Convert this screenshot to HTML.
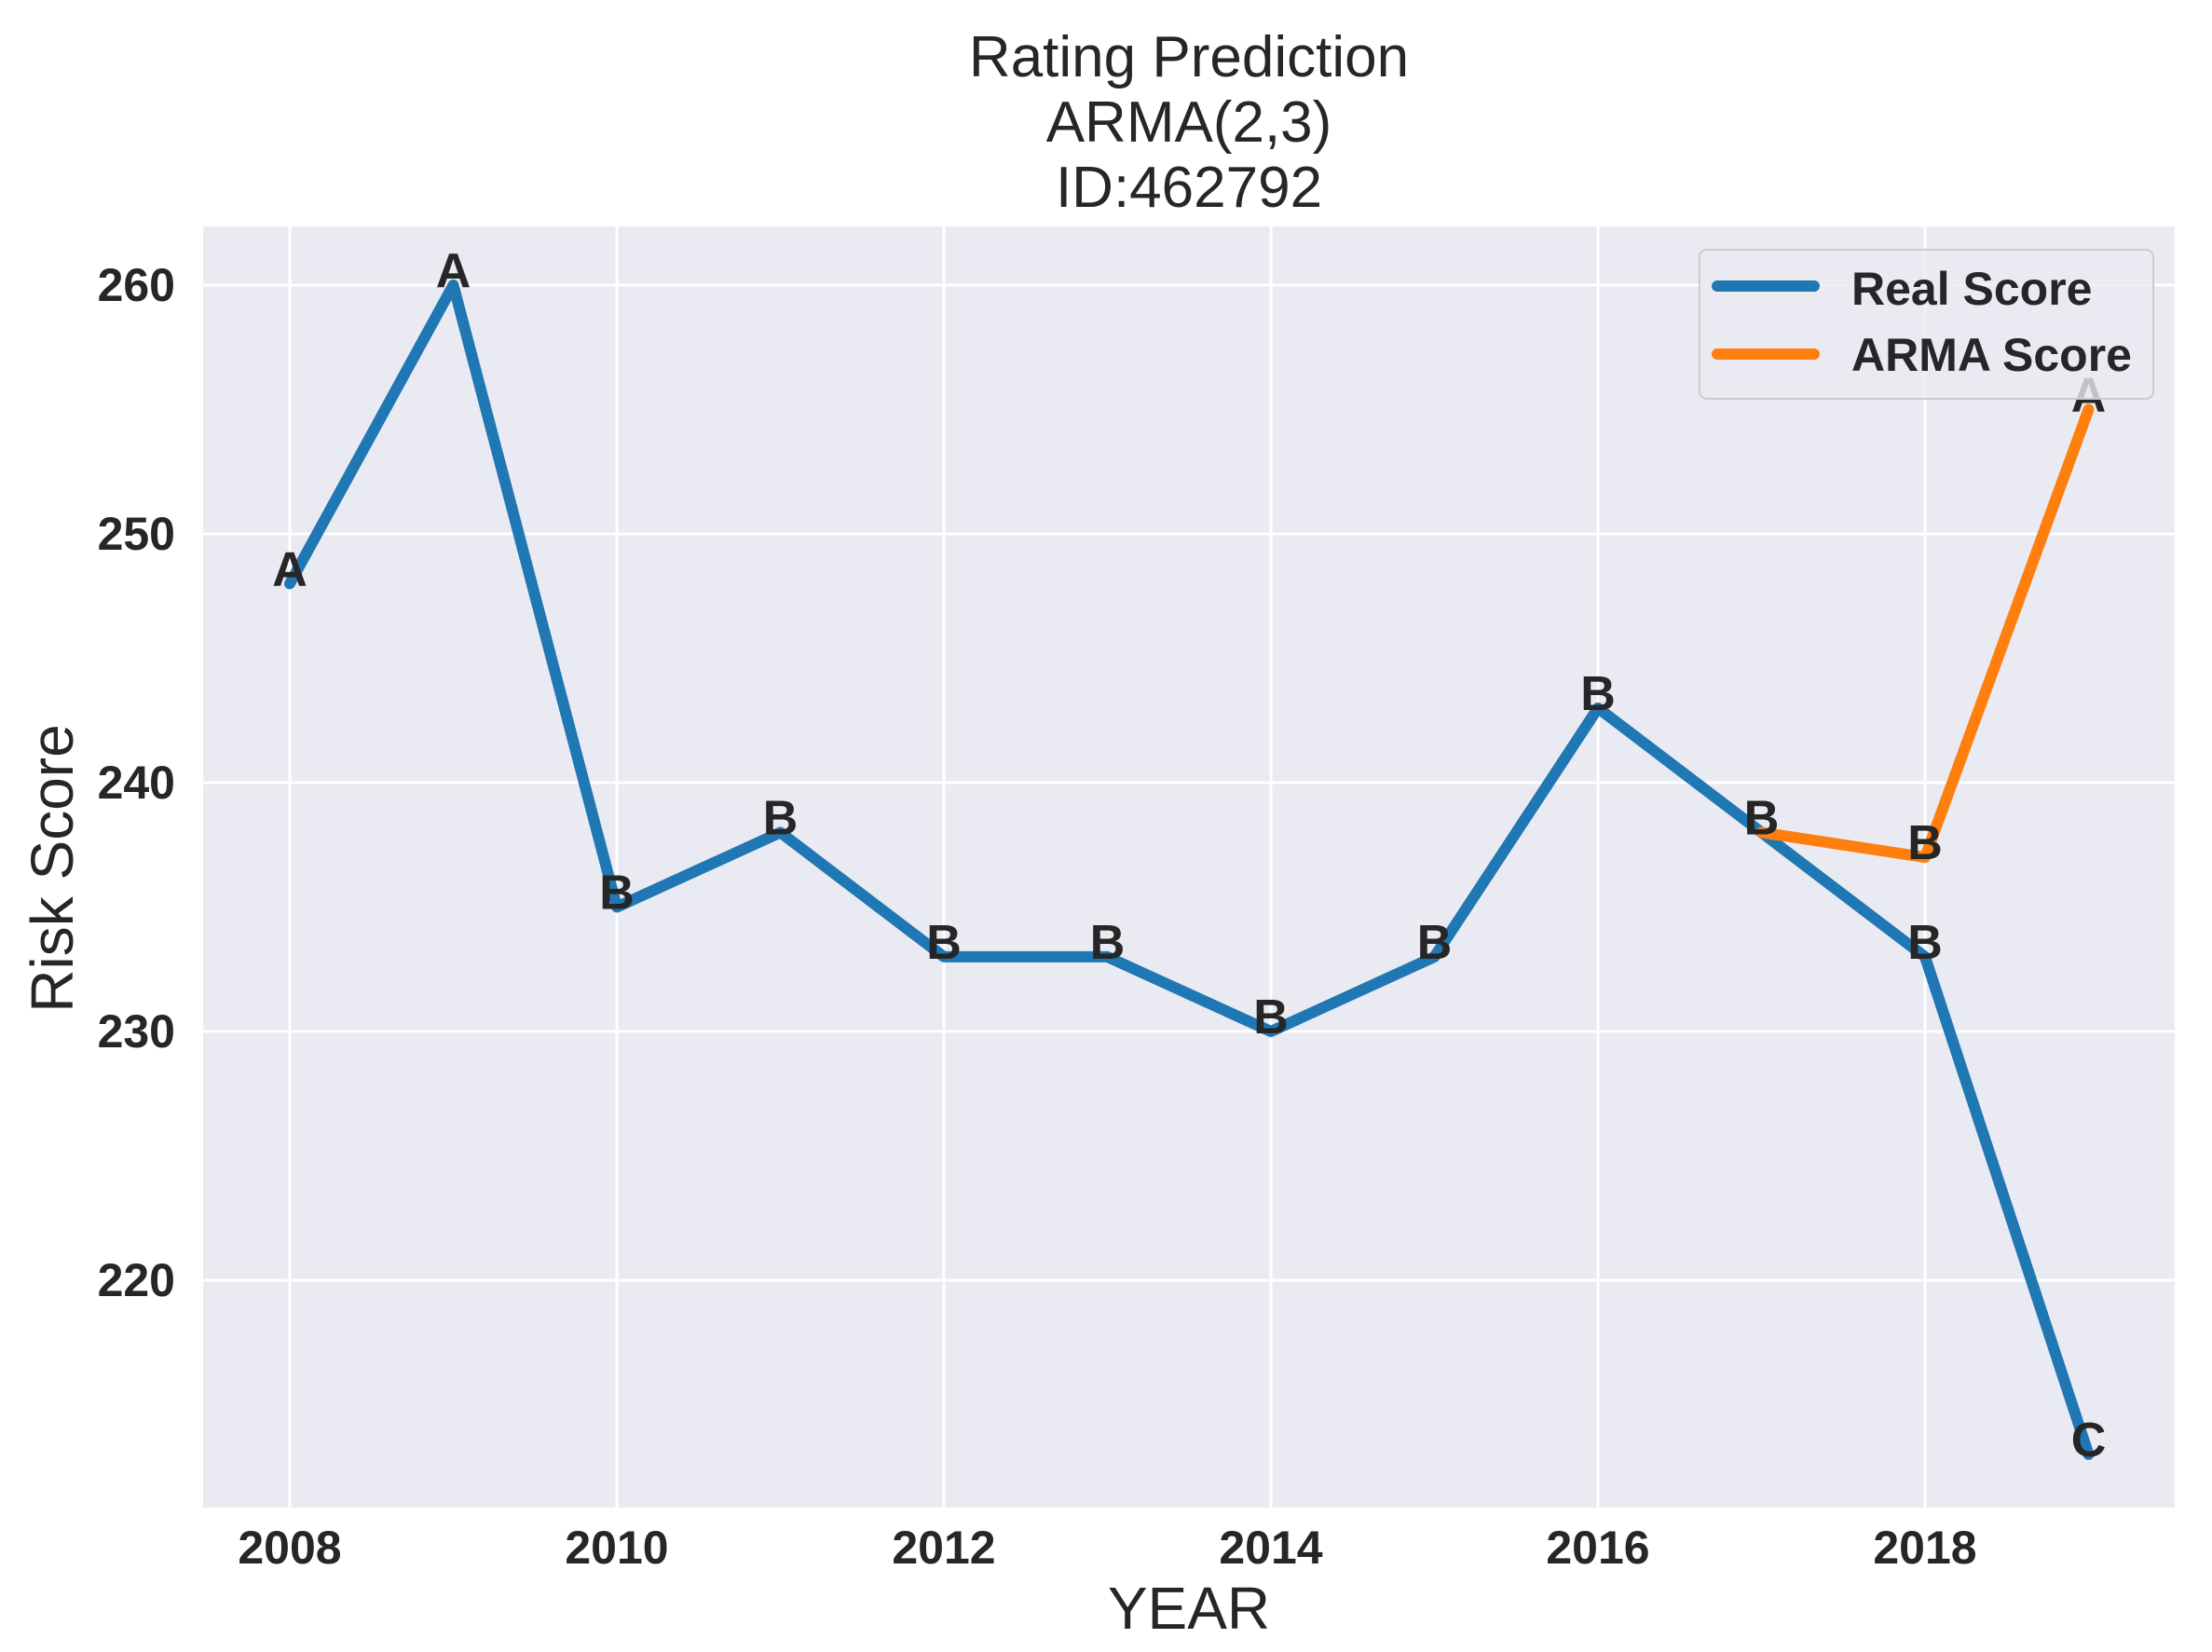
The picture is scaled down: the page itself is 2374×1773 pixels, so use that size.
<!DOCTYPE html>
<html><head><meta charset="utf-8"><style>
html,body{margin:0;padding:0;background:#fff;}
svg{display:block;font-family:"Liberation Sans",Arial,sans-serif;}
</style></head><body>
<svg id="chart" width="2374" height="1773" viewBox="0 0 2374 1773" xmlns="http://www.w3.org/2000/svg">
<rect x="0" y="0" width="2374" height="1773" fill="#fff"/>
<rect x="218" y="243" width="2116" height="1375" fill="#eaeaf2"/>
<g id="grid"></g>
<g id="ticks"></g>
<g id="series"></g>
<g id="labels"></g>
<g fill="#262626" font-size="62" text-anchor="middle">
<text x="1276" y="82">Rating Prediction</text>
<text x="1276" y="152">ARMA(2,3)</text>
<text x="1276" y="222">ID:462792</text>
</g>
<text x="1276" y="1748" font-size="64" text-anchor="middle" fill="#262626">YEAR</text>
<text x="0" y="0" font-size="64" text-anchor="middle" fill="#262626" transform="translate(78,932) rotate(-90)">Risk Score</text>
<g>
<rect x="1824" y="268" width="487" height="160" rx="8" fill="#eaeaf2" fill-opacity="0.8" stroke="#cccccc" stroke-width="2"/>
<line x1="1843" y1="307" x2="1947" y2="307" stroke="#1f77b4" stroke-width="12" stroke-linecap="round"/>
<text x="1987" y="327" font-size="50" font-weight="bold" fill="#262626">Real Score</text>
<line x1="1843" y1="380" x2="1947" y2="380" stroke="#ff7f0e" stroke-width="12" stroke-linecap="round"/>
<text x="1987" y="398" font-size="50" font-weight="bold" fill="#262626">ARMA Score</text>
</g>
</svg>
<script>
const years = [2008,2009,2010,2011,2012,2013,2014,2015,2016,2017,2018,2019];
const realScores = [248,260,235,238,233,233,230,233,243,238,233,213];
const realGrades = ["A","A","B","B","B","B","B","B","B","B","B","C"];
const armaYears = [2017,2018,2019];
const armaScores = [238,237,255];
const armaGrades = ["B","B","A"];
const xTicks = [2008,2010,2012,2014,2016,2018];
const yTicks = [220,230,240,250,260];

const NS = "http://www.w3.org/2000/svg";
const X0 = 218, X1 = 2334, Y0 = 243, Y1 = 1618;
function xs(v){ return 311 + (v - 2008) * 175.5; }
function ys(v){ return 306 + (260 - v) * 26.7; }
function mk(tag, attrs, parent){
  const e = document.createElementNS(NS, tag);
  for (const k in attrs) e.setAttribute(k, attrs[k]);
  parent.appendChild(e);
  return e;
}
const grid = document.getElementById('grid');
const ticks = document.getElementById('ticks');
const series = document.getElementById('series');
const labels = document.getElementById('labels');

yTicks.forEach(t => {
  const l = mk('line', {x1:X0, x2:X1, y1:ys(t), y2:ys(t), stroke:'#fff', 'stroke-width':3}, grid);
  
  
  const tx = mk('text', {x:188, y:ys(t)+17, 'font-size':50, 'font-weight':'bold', 'text-anchor':'end', fill:'#262626'}, ticks);
  tx.textContent = t;
  
  
});
xTicks.forEach(t => {
  const l = mk('line', {x1:xs(t), x2:xs(t), y1:Y0, y2:Y1, stroke:'#fff', 'stroke-width':3}, grid);
  
  
  const tx = mk('text', {x:xs(t), y:1678, 'font-size':50, 'font-weight':'bold', 'text-anchor':'middle', fill:'#262626'}, ticks);
  tx.textContent = t;
  
  
});

const realPts = years.map((y,i) => xs(y) + ',' + ys(realScores[i])).join(' ');
const rl = mk('polyline', {points:realPts, fill:'none', stroke:'#1f77b4', 'stroke-width':12, 'stroke-linejoin':'round', 'stroke-linecap':'round'}, series);


const armaPts = armaYears.map((y,i) => xs(y) + ',' + ys(armaScores[i])).join(' ');
const al = mk('polyline', {points:armaPts, fill:'none', stroke:'#ff7f0e', 'stroke-width':12, 'stroke-linejoin':'round', 'stroke-linecap':'round'}, series);



years.forEach((y,i) => {
  const t = mk('text', {x:xs(y), y:ys(realScores[i])+2, 'font-size':52, 'font-weight':'bold', 'text-anchor':'middle', fill:'#262626'}, labels);
  t.textContent = realGrades[i];
  
  
});
armaYears.forEach((y,i) => {
  const t = mk('text', {x:xs(y), y:ys(armaScores[i])+2, 'font-size':52, 'font-weight':'bold', 'text-anchor':'middle', fill:'#262626'}, labels);
  t.textContent = armaGrades[i];
  
  
});
</script>
</body></html>
